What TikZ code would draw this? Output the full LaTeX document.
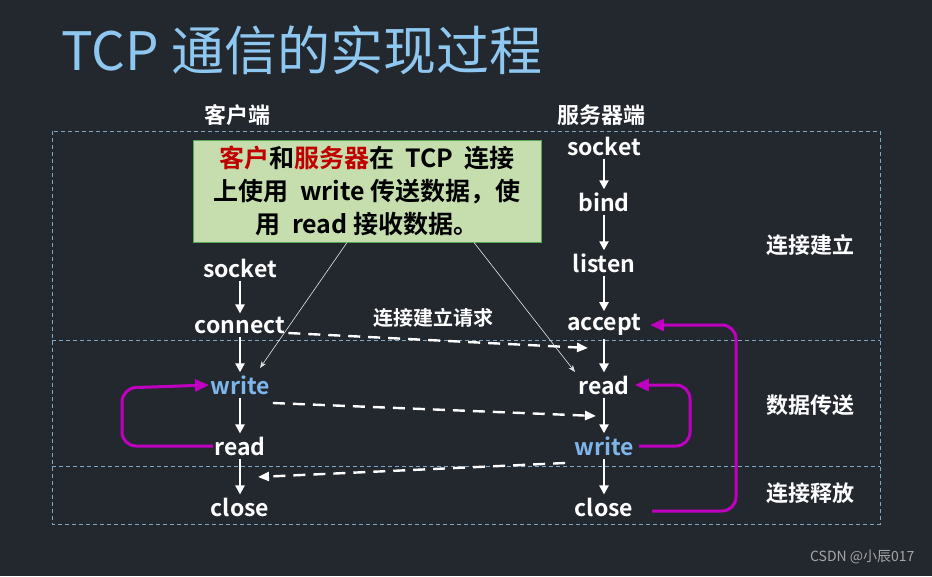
\documentclass[tikz,border=0pt]{standalone}
\usepackage{fontspec}
\setmainfont{Noto Sans CJK SC}[BoldFont={* Bold}]
\usetikzlibrary{arrows.meta,positioning}
\definecolor{bgdark}{HTML}{23272E}
\definecolor{titleblue}{HTML}{8EC8F0}
\definecolor{wblue}{HTML}{7EB6EC}
\definecolor{boxgreen}{HTML}{C6DDAE}
\definecolor{redtxt}{HTML}{C00000}
\definecolor{loopmag}{HTML}{C000C0}
\definecolor{sepblue}{HTML}{7FA8C8}
\tikzset{
  step node/.style={text=white,font=\bfseries\fontsize{23}{26}\selectfont,inner sep=1pt},
  flow/.style={draw=white,line width=2.4pt,-{Triangle[length=9pt,width=9pt]},shorten >=2pt,shorten <=2pt},
  msg/.style={draw=white,line width=2.4pt,dash pattern=on 12pt off 8pt,-{Triangle[length=11pt,width=9pt]}},
  loopline/.style={draw=loopmag,line width=3pt,rounded corners=14pt,-{Triangle[length=14pt,width=12pt]}},
  phase/.style={text=white,font=\bfseries\fontsize{22}{25}\selectfont},
  sep/.style={draw=sepblue,line width=1pt,dash pattern=on 4pt off 3pt},
}
\begin{document}
\begin{tikzpicture}[x=1pt,y=-1pt]
\fill[bgdark] (0,0) rectangle (932,576);
\useasboundingbox (0,0) rectangle (932,576);

\node[anchor=west,text=titleblue,font=\fontsize{53}{58}\selectfont] (title) at (58,50) {TCP 通信的实现过程};
\node[phase] (hcli) at (237,115) {客户端};
\node[phase] (hsrv) at (601,115) {服务器端};

% frame and phase separators
\draw[sep] (52,131) rectangle (880,524);
\draw[sep] (52,340) -- (880,340);
\draw[sep] (52,466) -- (880,466);
\node[phase] (p1) at (810,245) {连接建立};
\node[phase] (p2) at (810,405) {数据传送};
\node[phase] (p3) at (810,493) {连接释放};

% server side
\node[step node] (ssocket) at (604,146) {socket};
\node[step node] (sbind) at (604,202) {bind};
\node[step node] (slisten) at (604,263) {listen};
\node[step node] (saccept) at (604,325) {accept};
\node[step node] (sread) at (604,385) {read};
\node[step node,text=wblue] (swrite) at (604,446) {write};
\node[step node] (sclose) at (604,507) {close};

% client side
\node[step node] (csocket) at (240,268) {socket};
\node[step node] (cconnect) at (240,325) {connect};
\node[step node,text=wblue] (cwrite) at (240,385) {write};
\node[step node] (cread) at (240,446) {read};
\node[step node] (cclose) at (240,507) {close};

\foreach \a/\b in {ssocket/sbind,sbind/slisten,slisten/saccept,saccept/sread,sread/swrite,swrite/sclose,
                   csocket/cconnect,cconnect/cwrite,cwrite/cread,cread/cclose}
  \draw[flow] (\a) -- (\b);

% messages
\coordinate (m1) at (588,348);
\coordinate (m2) at (596,416);
\coordinate (m3) at (258,477);
\draw[msg] (cconnect.east) ++(2,8) -- (m1);
\node[phase,font=\bfseries\fontsize{20}{24}\selectfont] (req) at (433,318) {连接建立请求};
\draw[msg] (cwrite.east) ++(2,18) -- (m2);
\draw[msg] (swrite.west) ++(-8,17) -- (m3);

% loops
\coordinate (lc) at (652,511);
\draw[loopline] (cread.west) -- (122,446) -- (122,388) -- (cwrite.west);
\draw[loopline] (swrite.east) ++(4,0) -- (690,446) -- (690,385) -- ([xshift=4pt]sread.east);
\draw[loopline] (lc) -- (736,511) -- (736,325) -- ([xshift=8pt]saccept.east);

% note
\node[fill=boxgreen,draw=gray!70!green,line width=1pt,minimum width=348pt,minimum height=102pt,
      align=center,font=\bfseries\fontsize{25}{33}\selectfont,inner sep=3pt] (note) at (367,191)
  {\textcolor{redtxt}{客户}和\textcolor{redtxt}{服务器}在\ \ TCP\ \ 连接\\
   上使用\ \ write 传送数据，使\\
   用\ \ read 接收数据。};
\coordinate (t1) at (260,368);
\coordinate (t2) at (575,372);
\draw[white!80!gray,line width=0.6pt,-{Stealth[length=7pt]}] ([xshift=-20pt]note.south) -- (t1);
\draw[white!80!gray,line width=0.6pt,-{Stealth[length=7pt]}] ([xshift=107pt]note.south) -- (t2);

\node[text=gray!70,font=\fontsize{14}{16}\selectfont,anchor=east] (csdn) at (918,557) {CSDN @小辰017};
\end{tikzpicture}
\end{document}
